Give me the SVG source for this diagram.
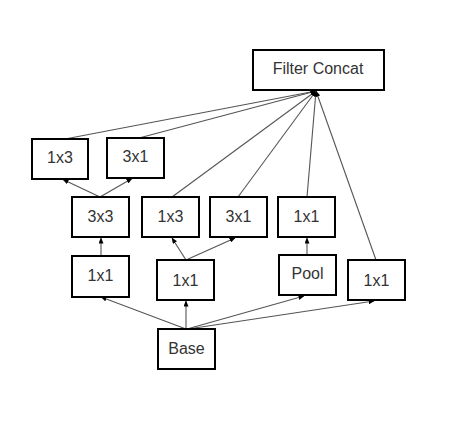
<svg xmlns="http://www.w3.org/2000/svg" width="474" height="428" viewBox="0 0 474 428">
<style>
.box{fill:#fff;stroke:#000;stroke-width:2}
.lbl{font-family:"Liberation Sans",Arial,sans-serif;font-size:16px;fill:#333;text-anchor:middle}
.ln{stroke:#555;stroke-width:1.1;fill:none;marker-end:url(#ah)}
</style>
<defs>
<marker id="ah" markerUnits="userSpaceOnUse" markerWidth="6" markerHeight="5" refX="5.5" refY="2.5" orient="auto">
<path d="M0,0 L6,2.5 L0,5 z" fill="#000"/>
</marker>
</defs>
<rect width="474" height="428" fill="#fff"/>
<g id="connectors">
<line class="ln" x1="186" y1="329" x2="101" y2="297"/>
<line class="ln" x1="186" y1="329" x2="186" y2="301"/>
<line class="ln" x1="187" y1="329" x2="304" y2="296"/>
<line class="ln" x1="188" y1="329" x2="374" y2="301"/>
<line class="ln" x1="101" y1="256" x2="101" y2="238"/>
<line class="ln" x1="186" y1="260" x2="172" y2="238"/>
<line class="ln" x1="186" y1="260" x2="235" y2="238"/>
<line class="ln" x1="307" y1="255" x2="307" y2="238"/>
<line class="ln" x1="100" y1="197" x2="63" y2="179.5"/>
<line class="ln" x1="100" y1="197" x2="132" y2="178.5"/>
<line class="ln" x1="65" y1="139" x2="316" y2="91"/>
<line class="ln" x1="139" y1="138" x2="316" y2="91"/>
<line class="ln" x1="172" y1="197" x2="316" y2="91"/>
<line class="ln" x1="238" y1="197" x2="316" y2="91"/>
<line class="ln" x1="307" y1="197" x2="316" y2="91"/>
<line class="ln" x1="376" y1="260" x2="316" y2="91"/>
</g>
<g id="concat"><rect class="box" x="253" y="50" width="131" height="40"/><text class="lbl" x="318" y="74">Filter Concat</text></g>
<g id="t1x3"><rect class="box" x="32" y="139" width="56" height="40"/><text class="lbl" x="60" y="163">1x3</text></g>
<g id="t3x1"><rect class="box" x="107" y="138" width="57" height="40"/><text class="lbl" x="135.5" y="162">3x1</text></g>
<g id="m3x3"><rect class="box" x="72" y="197" width="57" height="40"/><text class="lbl" x="100.5" y="222">3x3</text></g>
<g id="m1x3"><rect class="box" x="142" y="197" width="57" height="40"/><text class="lbl" x="170.5" y="222">1x3</text></g>
<g id="m3x1"><rect class="box" x="210" y="197" width="57" height="40"/><text class="lbl" x="238.5" y="222">3x1</text></g>
<g id="m1x1"><rect class="box" x="278" y="197" width="57" height="40"/><text class="lbl" x="306.5" y="222">1x1</text></g>
<g id="b1x1a"><rect class="box" x="72" y="256" width="57" height="41"/><text class="lbl" x="100.5" y="281">1x1</text></g>
<g id="b1x1b"><rect class="box" x="157" y="260" width="57" height="40"/><text class="lbl" x="185.5" y="286">1x1</text></g>
<g id="pool"><rect class="box" x="279" y="255" width="57" height="40"/><text class="lbl" x="307.5" y="279">Pool</text></g>
<g id="b1x1c"><rect class="box" x="348" y="260" width="57" height="40"/><text class="lbl" x="376.5" y="286">1x1</text></g>
<g id="base"><rect class="box" x="158" y="329" width="57" height="40"/><text class="lbl" x="186.5" y="354">Base</text></g>
</svg>
